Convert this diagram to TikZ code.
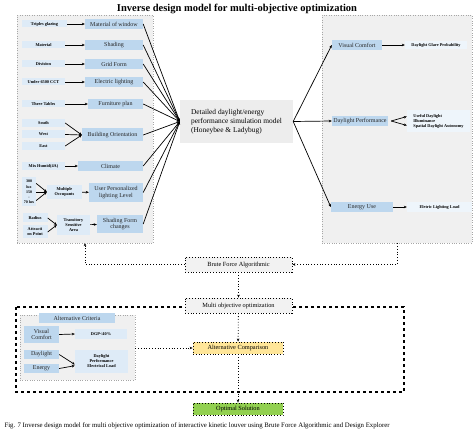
\documentclass[tikz,border=0pt]{standalone}
\usepackage{fontspec}
\setmainfont{Liberation Serif}
\usetikzlibrary{arrows.meta,positioning}

\definecolor{boxblue}{HTML}{BDD7EE}
\definecolor{lblblue}{HTML}{DEEBF7}
\definecolor{panelgray}{HTML}{F0F0F0}
\definecolor{simgray}{HTML}{EDEDED}
\definecolor{algogray}{HTML}{F2F2F2}
\definecolor{cmpyellow}{HTML}{FFE699}
\definecolor{optgreen}{HTML}{92D050}

\begin{document}
\begin{tikzpicture}[
  x=1pt, y=-1pt,
  sz/.style 2 args={minimum width=#1pt, minimum height=#2pt},
  panel/.style={rectangle, draw=gray!70, dotted, fill=panelgray, inner sep=0pt},
  tbox/.style={rectangle, fill=boxblue, font=\fontsize{6}{6.8}\selectfont, text=black!85, inner sep=0pt, align=center},
  lbl/.style={rectangle, fill=lblblue, font=\bfseries\fontsize{4.3}{5}\selectfont, inner sep=0pt, align=center},
  algo/.style={rectangle, draw, dotted, thick, font=\fontsize{6.3}{7}\selectfont, inner sep=0pt},
  wire/.style={-{Stealth[length=3pt,width=2.6pt]}, line width=0.7pt},
  dotwire/.style={-{Stealth[length=3pt,width=2.6pt]}, dotted, thick}
]
  \clip (0,0) rectangle (474,430);
  \useasboundingbox (0,0) rectangle (474,430);

  \node[font=\bfseries\fontsize{10.5}{12}\selectfont] (title) at (237,9) {Inverse design model for multi-objective optimization};

  % input panel
  \node[panel, sz={136}{228}] (inpanel) at (85,129) {};
  \node[lbl, sz={45}{7}] (tg) at (44.5,24) {Triples glazing};
  \node[tbox, sz={58}{10}] (mw) at (114,24) {Material of window};
  \node[lbl, sz={43}{7}] (mat) at (43.5,45) {Material};
  \node[tbox, sz={58}{10}] (shd) at (114,45) {Shading};
  \node[lbl, sz={43}{7}] (div) at (43.5,64) {Division};
  \node[tbox, sz={58}{10}] (gf) at (114,64) {Grid Form};
  \node[lbl, sz={43}{7}] (cct) at (43.5,82) {Under 6500 CCT};
  \node[tbox, sz={58}{10}] (el) at (114,82) {Electric lighting};
  \node[lbl, sz={43}{7}] (tt) at (43.5,104) {Three Tables};
  \node[tbox, sz={55}{10}] (fp) at (115.5,104) {Furniture plan};
  \node[lbl, sz={43}{8}] (so) at (43.5,123) {South};
  \node[lbl, sz={43}{8}] (we) at (43.5,134.5) {West};
  \node[lbl, sz={43}{8}] (ea) at (43.5,146) {East};
  \node[tbox, sz={61}{13}] (bo) at (112.5,135) {Building Orientation};
  \node[lbl, sz={43}{8}] (mix) at (43.5,166) {Mix Humid(4A)};
  \node[tbox, sz={65}{10}] (cl) at (110.5,166) {Climate};
  \node[lbl, sz={14}{29}, font=\bfseries\fontsize{4}{5.3}\selectfont] (lux) at (29,192) {300\\lux\\150\\-\\70 lux};
  \node[lbl, sz={35}{14}] (mo) at (64.5,192) {Multiple\\Occupants};
  \node[tbox, sz={54}{19}] (upl) at (116,192.5) {User Personalized\\lighting Level};
  \node[lbl, sz={25}{9}] (rad) at (35,218) {Radius};
  \node[lbl, sz={25}{13}] (ap) at (35,232) {Attracti\\on Point};
  \node[lbl, sz={33}{20}] (tsa) at (73.5,225) {Transitory\\Sensitive\\Area};
  \node[tbox, sz={46}{18}] (sfc) at (120,224) {Shading Form\\changes};

  \foreach \from/\to in {tg/mw, mat/shd, div/gf, cct/el, tt/fp, mix/cl, mo/upl, tsa/sfc}
    \draw[wire] (\from) -- (\to);
  \foreach \from in {so, we, ea}
    \draw[wire] (\from.east) -- (bo.west);
  \foreach \ang in {50, 0, -50}
    \draw[wire] (lux.\ang) -- (mo.west);
  \foreach \from in {rad, ap}
    \draw[wire] (\from.east) -- (tsa.west);

  % simulation model
  \node[rectangle, fill=simgray, sz={113}{43}, inner sep=6pt, align=left, font=\fontsize{7.4}{9}\selectfont] (sim) at (236.5,121.5) {Detailed daylight/energy\\performance simulation model\\(Honeybee \& Ladybug)};
  \foreach \from in {mw, shd, gf, el, fp, bo, cl, upl, sfc}
    \draw[wire] (\from.east) -- (sim.west);

  % output panel
  \node[panel, sz={150}{228}] (outpanel) at (397,129) {};
  \node[tbox, sz={50}{10}] (vc) at (357,45) {Visual Comfort};
  \node[lbl, sz={62}{8}, fill=lblblue!50] (dgpr) at (436,45) {Daylight Glare Probability};
  \node[tbox, sz={56}{10}] (dp) at (360,121) {Daylight Performance};
  \node[lbl, sz={63}{22}, fill=lblblue!50, align=left, inner xsep=3pt] (udi) at (438.5,121) {Useful Daylight\\Illuminance\\Spatial Daylight Autonomy};
  \node[tbox, sz={62}{10}] (eu) at (362,207) {Energy Use};
  \node[lbl, sz={65}{10}, fill=lblblue!50] (ell) at (439.5,207) {Eletric Lighting Load};
  \foreach \to in {vc, dp, eu}
    \draw[wire] (sim.east) -- (\to.west);
  \foreach \from/\to in {vc/dgpr, eu/ell}
    \draw[wire] (\from) -- (\to);
  \foreach \ang in {172, 188}
    \draw[wire] ([xshift=3pt]dp.east) -- (udi.\ang);

  % optimization loop
  \node[algo, fill=algogray, sz={107}{15}] (bf) at (238.5,264.5) {Brute Force Algorithmic};
  \draw[dotwire] (bf.west) -| (inpanel.south);
  \draw[dotwire] (outpanel.south) |- (bf.east);

  \draw[dashed, line width=1.2pt] (16,307) rectangle (404,392);
  \node[algo, fill=algogray, sz={107}{15}] (moo) at (238.5,305.5) {Multi objective optimization};

  \node[panel, sz={115}{65}] (acpanel) at (77.5,347.5) {};
  \node[tbox, sz={76}{10}] (acr) at (77,318) {Alternative Criteria};
  \node[tbox, sz={35}{17}] (vc2) at (41.5,334.5) {Visual\\Comfort};
  \node[lbl, sz={52}{10}] (dgp) at (101,334) {DGP<40\%};
  \node[tbox, sz={35}{9}] (dl) at (41.5,354.5) {Daylight};
  \node[tbox, sz={35}{9}] (en) at (41.5,368.5) {Energy};
  \node[lbl, sz={53}{23}] (res) at (101.5,361.5) {Daylight\\Performance\\Electrical Load};
  \draw[wire] (vc2.east) -- (dgp.west);
  \draw[wire] (dl.east) -- ([yshift=-3pt]res.west);
  \draw[wire] (en.east) -- ([yshift=7.5pt]res.south west);

  \node[algo, fill=cmpyellow, sz={90}{12}] (ac) at (238,348) {Alternative Comparison};
  \node[algo, fill=optgreen, sz={90}{12}] (opt) at (238,409) {Optimal Solution};
  \draw[dotwire] (acpanel.east |- ac.west) -- (ac.west);
  \foreach \from/\to in {bf/moo, moo/ac, ac/opt}
    \draw[dotwire] (\from) -- (\to);

  \node[anchor=base west, font=\fontsize{6.8}{8}\selectfont] (cap) at (1,427.5) {Fig. 7 Inverse design model for multi objective optimization of interactive kinetic louver using Brute Force Algorithmic and Design Explorer};
\end{tikzpicture}
\end{document}
